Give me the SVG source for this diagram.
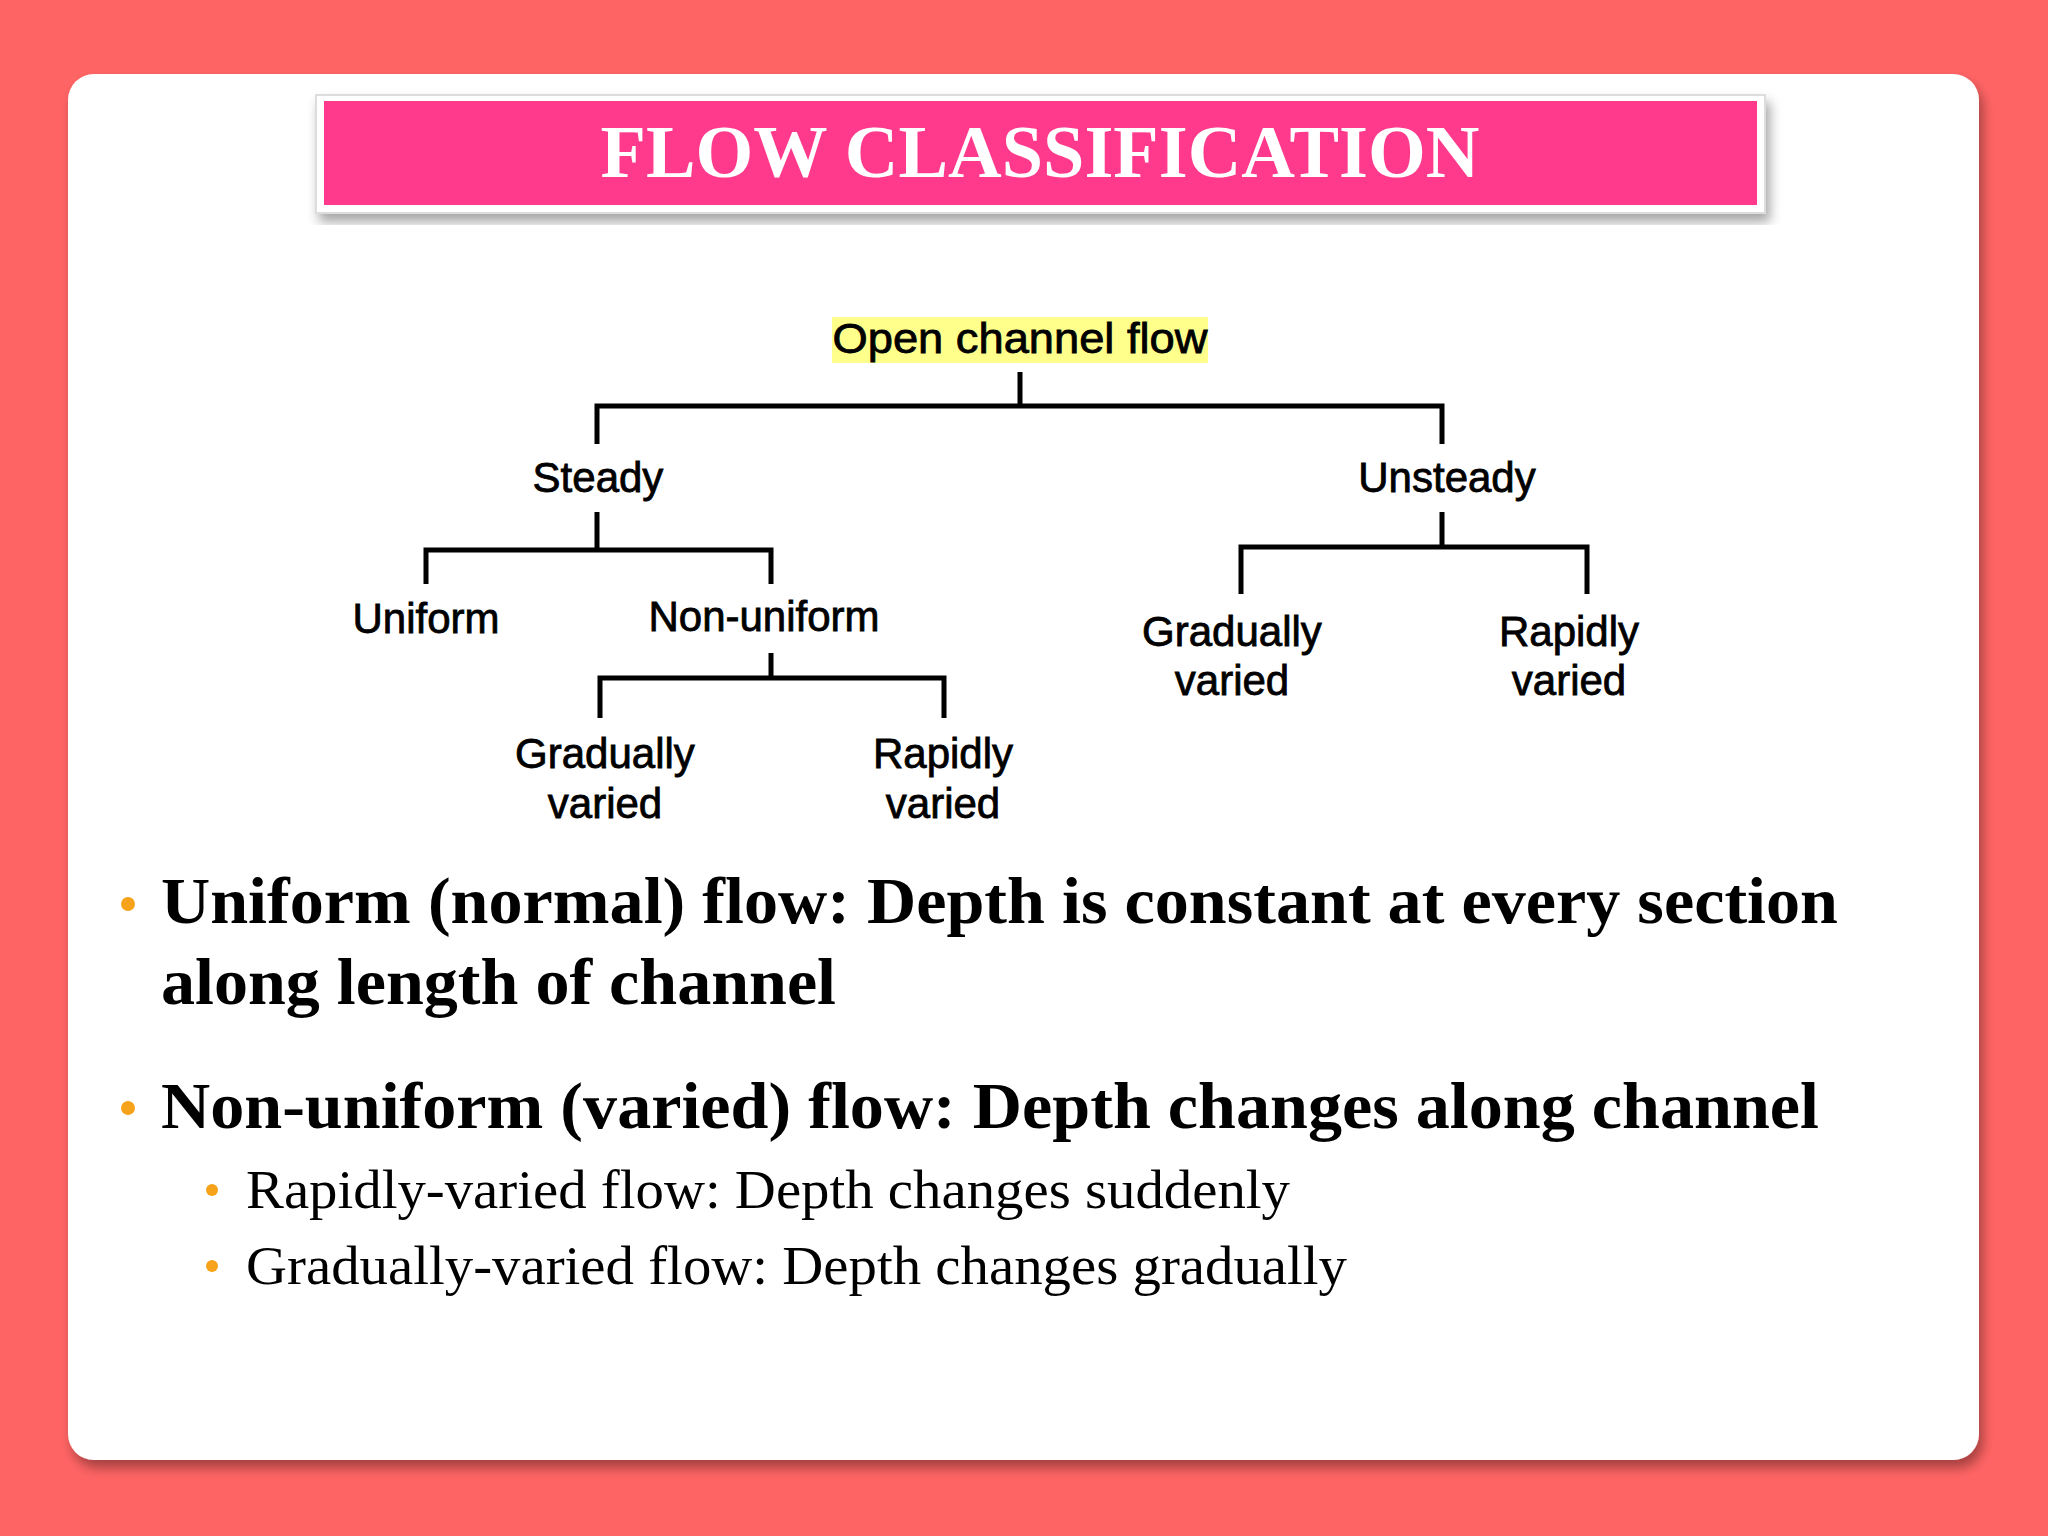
<svg xmlns="http://www.w3.org/2000/svg" width="2048" height="1536" viewBox="0 0 2048 1536">
<style>
.d{font-family:"Liberation Sans",Arial,sans-serif;font-size:42px;fill:#000;text-anchor:middle;stroke:#000;stroke-width:0.8}
.b{font-family:"Liberation Serif","Times New Roman",serif;font-weight:bold;font-size:66px;fill:#000}
.s{font-family:"Liberation Serif","Times New Roman",serif;font-size:54px;fill:#000}
.ln{stroke:#000;stroke-width:5;fill:none}
</style>
<defs>
<filter id="sh" x="-5%" y="-5%" width="110%" height="115%"><feDropShadow dx="4" dy="8" stdDeviation="6" flood-color="#000" flood-opacity="0.35"/></filter>
</defs>
<rect width="2048" height="1536" fill="#FF6464"/>
<rect x="68" y="74" width="1911" height="1386" rx="26" fill="#fff" filter="url(#sh)"/>
<g id="title">
<rect x="316" y="95" width="1449" height="118" fill="#fff" stroke="#ddd" stroke-width="2" filter="url(#sh)"/>
<rect x="324" y="101" width="1433" height="104" fill="#FF3A8C"/>
<text x="1040" y="177" text-anchor="middle" font-family="Liberation Serif,serif" font-weight="bold" font-size="74" fill="#fff" textLength="879" lengthAdjust="spacingAndGlyphs">FLOW CLASSIFICATION</text>
</g>
<g id="connectors">
<path class="ln" d="M1020 372V406M597 444V406H1442V444"/>
<path class="ln" d="M597 512V550M426 584V550H771V584"/>
<path class="ln" d="M771 653V678M600 718V678H944V718"/>
<path class="ln" d="M1442 512V547M1241 594V547H1587V594"/>
</g>
<g id="n-open"><rect x="832" y="317" width="376" height="46" fill="#ffff40" opacity="0.6"/><text class="d" x="1020" y="353" textLength="375" lengthAdjust="spacingAndGlyphs">Open channel flow</text></g>
<g id="n-steady"><text class="d" x="598" y="492">Steady</text></g>
<g id="n-unsteady"><text class="d" x="1447" y="492">Unsteady</text></g>
<g id="n-uniform"><text class="d" x="426" y="633">Uniform</text></g>
<g id="n-nonuniform"><text class="d" x="764" y="631">Non-uniform</text></g>
<g id="n-gv1"><text class="d" x="605" y="768">Gradually</text><text class="d" x="605" y="818">varied</text></g>
<g id="n-rv1"><text class="d" x="943" y="768">Rapidly</text><text class="d" x="943" y="818">varied</text></g>
<g id="n-gv2"><text class="d" x="1232" y="646">Gradually</text><text class="d" x="1232" y="695">varied</text></g>
<g id="n-rv2"><text class="d" x="1569" y="646">Rapidly</text><text class="d" x="1569" y="695">varied</text></g>
<g id="bullets">
<circle cx="128" cy="904" r="7" fill="#F7A21B"/>
<text class="b" x="161" y="923" textLength="1677" lengthAdjust="spacingAndGlyphs">Uniform (normal) flow: Depth is constant at every section</text>
<text class="b" x="161" y="1004" textLength="675" lengthAdjust="spacingAndGlyphs">along length of channel</text>
<circle cx="128" cy="1108" r="7" fill="#F7A21B"/>
<text class="b" x="161" y="1128" textLength="1658" lengthAdjust="spacingAndGlyphs">Non-uniform (varied) flow: Depth changes along channel</text>
<circle cx="212" cy="1190" r="6" fill="#F7A21B"/>
<text class="s" x="246" y="1208" textLength="1044" lengthAdjust="spacingAndGlyphs">Rapidly-varied flow: Depth changes suddenly</text>
<circle cx="212" cy="1266" r="6" fill="#F7A21B"/>
<text class="s" x="246" y="1284" textLength="1101" lengthAdjust="spacingAndGlyphs">Gradually-varied flow: Depth changes gradually</text>
</g>
</svg>
